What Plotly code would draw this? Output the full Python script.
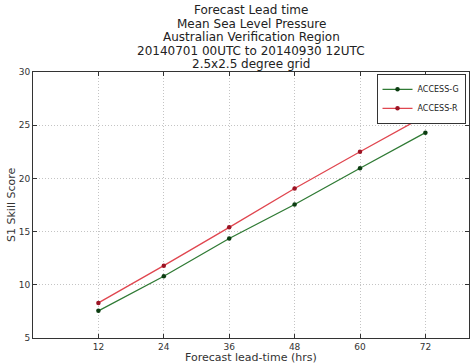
import plotly.graph_objects as go

lead_times = [12, 24, 36, 48, 60, 72]
access_g = [7.55, 10.8, 14.35, 17.55, 20.95, 24.3]
access_r = [8.3, 11.8, 15.4, 19.05, 22.5, 25.9]
x_ticks = [12, 24, 36, 48, 60, 72]
y_ticks = [5, 10, 15, 20, 25, 30]

title_lines = ["Forecast Lead time", "Mean Sea Level Pressure", "Australian Verification Region",
               "20140701 00UTC to 20140930 12UTC", "2.5x2.5 degree grid"]
title_y_px = [10, 23.5, 37, 51, 64.5]

W, H = 474, 363
L, R, T, B = 33, 5, 72, 25

fig = go.Figure()
fig.add_trace(go.Scatter(x=lead_times, y=access_g, mode="lines+markers", name="ACCESS-G",
                         line=dict(color="#2f7a34", width=1.3),
                         marker=dict(color="#0c3d12", size=4.5)))
fig.add_trace(go.Scatter(x=lead_times, y=access_r, mode="lines+markers", name="ACCESS-R",
                         line=dict(color="#e0464f", width=1.3),
                         marker=dict(color="#9c1424", size=4.5)))

axis_common = dict(showline=True, linecolor="#333333", linewidth=1, mirror="ticks",
                   ticks="inside", ticklen=4, tickcolor="#333333", automargin=False,
                   showgrid=True, gridcolor="#c4c4c4", griddash="1px,2px", gridwidth=1,
                   zeroline=False, tickfont=dict(family="DejaVu Sans", size=9, color="#333333"))

plot_h = H - T - B
plot_w = W - L - R
annotations = []
for txt, ypx in zip(title_lines, title_y_px):
    annotations.append(dict(text=txt, x=0.5, xref="paper", xanchor="center",
                            y=(H - B - ypx) / plot_h, yref="paper", yanchor="middle",
                            showarrow=False,
                            font=dict(family="DejaVu Sans", size=12, color="#222222")))
annotations.append(dict(text="Forecast lead-time (hrs)", x=0.5, xref="paper", xanchor="center",
                        y=(H - B - 357.5) / plot_h, yref="paper", yanchor="middle", showarrow=False,
                        font=dict(family="DejaVu Sans", size=11, color="#333333")))
annotations.append(dict(text="S1 Skill Score", x=(11 - L) / plot_w, xref="paper", xanchor="center",
                        y=0.5, yref="paper", yanchor="middle", showarrow=False, textangle=-90,
                        font=dict(family="DejaVu Sans", size=11, color="#333333")))

fig.update_layout(
    width=W, height=H,
    margin=dict(l=L, r=R, t=T, b=B, autoexpand=False),
    paper_bgcolor="white", plot_bgcolor="white",
    font=dict(family="DejaVu Sans", color="#222222"),
    xaxis=dict(range=[0, 80], tickvals=x_ticks, **axis_common),
    yaxis=dict(range=[5, 30], tickvals=y_ticks, **axis_common),
    annotations=annotations,
    legend=dict(x=0.992, y=0.993, xanchor="right", yanchor="top",
                bordercolor="#333333", borderwidth=1, bgcolor="white",
                font=dict(family="DejaVu Sans", size=8, color="#222222"),
                itemwidth=30, tracegroupgap=0),
    showlegend=True,
)

fig.write_html("out.html", config={"displayModeBar": False},
               post_script="document.body.style.margin='0';document.body.style.overflow='hidden';")
